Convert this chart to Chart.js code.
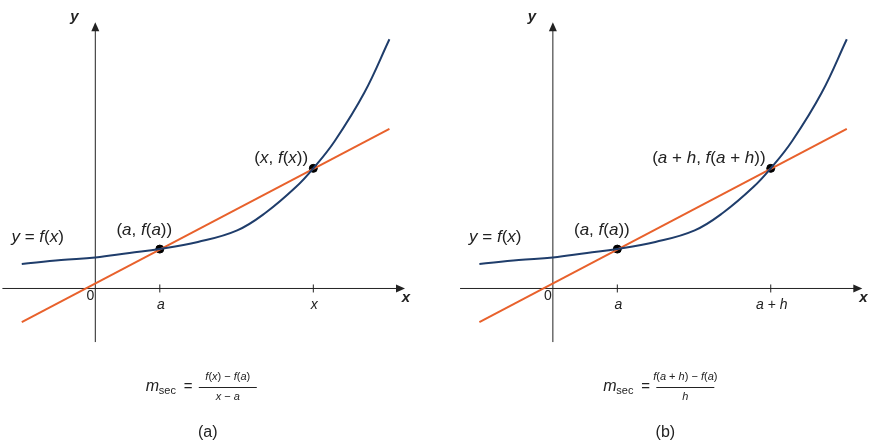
<!DOCTYPE html>
<html><head><meta charset="utf-8">
<script src="https://cdn.jsdelivr.net/npm/chart.js@4"></script>
<style>body{margin:0;background:#fff}canvas{position:absolute;top:0}</style>
</head><body>
<canvas id="c1" style="left:0;width:437px;height:442px"></canvas>
<canvas id="c2" style="left:437px;width:438px;height:442px"></canvas>
<script>
// curve f(x) (unit: a = 1)
const curveX = [-1.14,-0.53,0,0.53,1,1.59,2.2,2.65,3.11,3.38,3.71,4.17,4.56];
const curveY = [0.38,0.44,0.48,0.55,0.61,0.72,0.90,1.18,1.57,1.86,2.28,3.03,3.86];
// secant line end points
const secX = [-1.14, 4.56];
const secY = [-0.52, 2.47];
// marked points: a and x (or a+h)
const ptX = [1, 3.38];
const ptY = [0.61, 1.86];
const panels = [
  {id:'c1', xmin:-1.40, xmax:5.22, axisX0:-1.44, tickLabels:['a','x'],
   lblA:'(a, f(a))', lblB:'(x, f(x))', num:'f(x) − f(a)', den:'x − a', cap:'(a)'},
  {id:'c2', xmin:-1.72, xmax:4.92, axisX0:-1.44, tickLabels:['a','a + h'],
   lblA:'(a, f(a))', lblB:'(a + h, f(a + h))', num:'f(a + h) − f(a)', den:'h', cap:'(b)'}
];
const BLUE='#1f3d6b', ORANGE='#e8612c', F='"Liberation Sans", Arial, sans-serif';
function segs(ctx, parts, x, y, size, align){
  let w=0; parts.forEach(p=>{ctx.font=(p[1]?'italic ':'')+size+'px '+F; w+=ctx.measureText(p[0]).width;});
  let cx = align==='center'? x-w/2 : align==='right'? x-w : x;
  parts.forEach(p=>{ctx.font=(p[1]?'italic ':'')+size+'px '+F; ctx.textAlign='left'; ctx.fillText(p[0],cx,y); cx+=ctx.measureText(p[0]).width;});
}
function italicize(s){
  const out=[]; for(const ch of s){const it=/[a-z]/i.test(ch); if(out.length&&out[out.length-1][1]===it) out[out.length-1][0]+=ch; else out.push([ch,it]);} return out;
}
panels.forEach(P=>{
  const axes={id:'axes',beforeDatasetsDraw(ch){
    const c=ch.ctx, xs=ch.scales.x, ys=ch.scales.y, X=v=>xs.getPixelForValue(v), Y=v=>ys.getPixelForValue(v);
    c.save(); c.strokeStyle='#222'; c.fillStyle='#222'; c.lineWidth=1;
    const xe=4.77, ye=4.09;
    c.beginPath(); c.moveTo(X(P.axisX0),Y(0)); c.lineTo(X(xe),Y(0)); c.moveTo(X(0),Y(-0.83)); c.lineTo(X(0),Y(ye)); c.stroke();
    c.beginPath(); c.moveTo(X(xe)+2,Y(0)); c.lineTo(X(xe)-7,Y(0)-4); c.lineTo(X(xe)-7,Y(0)+4); c.fill();
    c.beginPath(); c.moveTo(X(0),Y(ye)-2); c.lineTo(X(0)-4,Y(ye)+7); c.lineTo(X(0)+4,Y(ye)+7); c.fill();
    ptX.forEach(v=>{c.beginPath(); c.moveTo(X(v),Y(0)-4); c.lineTo(X(v),Y(0)+4); c.stroke();});
    c.textBaseline='middle';
    segs(c,[['0',false]],X(0)-5,Y(0)+8,14,'center');
    ptX.forEach((v,i)=>segs(c,italicize(P.tickLabels[i]),X(v)+1,Y(0)+17,14,'center'));
    c.font='bold italic 15px '+F; c.textAlign='center';
    c.fillText('x',X(xe)+3,Y(0)+9); c.fillText('y',X(0)-21,Y(ye)-8);
    segs(c,italicize('y = f(x)'),X(-1.3),Y(0.8),17,'left');
    segs(c,italicize(P.lblA),X(0.76),Y(0.9),17,'center');
    segs(c,italicize(P.lblB),X(3.3),Y(2.02),17,'right');
    const fx=X(ptX[0])+48, fy=387;
    segs(c,[['m',true]],fx-62,fy,16,'left');
    c.font='11px '+F; c.textAlign='left'; c.fillText('sec',fx-49,fy+4);
    segs(c,[['=',false]],fx-24,fy,15,'left');
    segs(c,italicize(P.num),fx+20,fy-10,11,'center');
    segs(c,italicize(P.den),fx+20,fy+10,11,'center');
    c.beginPath(); c.moveTo(fx-9,fy+0.5); c.lineTo(fx+49,fy+0.5); c.stroke();
    segs(c,[[P.cap,false]],fx,433,16,'center');
    c.restore();
  }};
  new Chart(document.getElementById(P.id),{
    type:'scatter',
    data:{datasets:[
      {data:curveX.map((x,i)=>({x,y:curveY[i]})),showLine:true,borderColor:BLUE,borderWidth:2,pointRadius:0,tension:0.4},
      {data:secX.map((x,i)=>({x,y:secY[i]})),showLine:true,borderColor:ORANGE,borderWidth:2,pointRadius:0},
      {data:ptX.map((x,i)=>({x,y:ptY[i]})),pointRadius:4,pointBackgroundColor:'#000',pointBorderColor:'#000'}
    ]},
    options:{responsive:false,animation:false,events:[],layout:{padding:0},
      plugins:{legend:{display:false},tooltip:{enabled:false}},
      scales:{x:{type:'linear',min:P.xmin,max:P.xmax,display:false},y:{type:'linear',min:-2.30,max:4.39,display:false}}},
    plugins:[axes]
  });
});
</script>
</body></html>
